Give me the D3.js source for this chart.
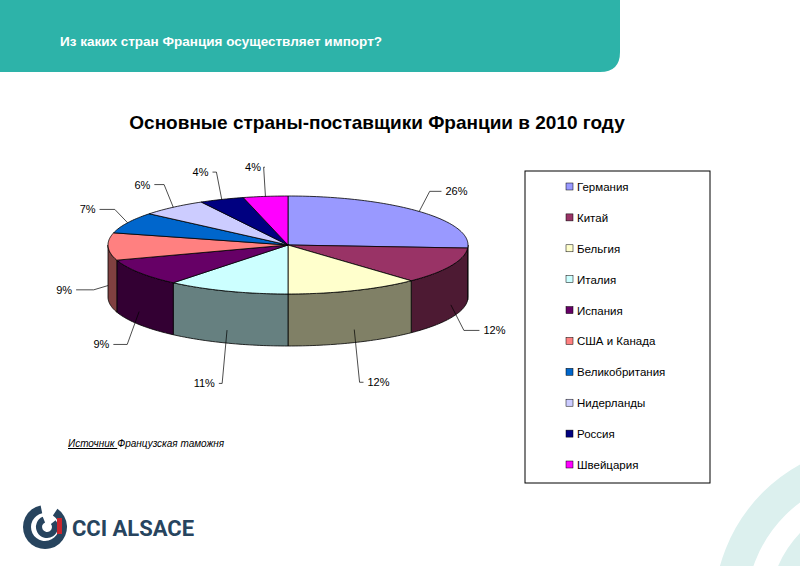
<!DOCTYPE html><html><head><meta charset="utf-8"><script src="https://cdn.jsdelivr.net/npm/d3@7"></script>
<style>body{margin:0;background:#fff}svg{display:block;font-family:"Liberation Sans",Arial,sans-serif}</style></head><body>
<svg id="c" width="800" height="566"></svg>
<script>
const countries=["Германия","Китай","Бельгия","Италия","Испания","США и Канада","Великобритания","Нидерланды","Россия","Швейцария"];
const shares=[26,12,12,11,9,9,7,6,4,4];
const colors=["#9999ff","#993366","#ffffcc","#ccffff","#660066","#ff8080","#0066cc","#ccccff","#000080","#ff00ff"];
const svg=d3.select("#c");
svg.append("path").attr("d","M0,0H620V52Q620,72 600,72H0Z").attr("fill","#2db3a9");
svg.append("text").attr("x",60).attr("y",46).attr("fill","#fff").attr("font-size",13.5).attr("font-weight","bold").text("Из каких стран Франция осуществляет импорт?");
const deco=svg.append("g").attr("fill","none").attr("stroke","#dcf0ee");
deco.append("circle").attr("cx",880).attr("cy",610).attr("r",150).attr("stroke-width",32);
deco.append("circle").attr("cx",880).attr("cy",610).attr("r",95).attr("stroke-width",32);
svg.append("text").attr("x",377).attr("y",129).attr("text-anchor","middle").attr("font-size",19).attr("font-weight","bold").text("Основные страны-поставщики Франции в 2010 году");
const cx=288,cy=245,rx=180,ry=49,depth=52;
const pie=d3.pie().sort(null).value(d=>d)(shares);
const P=(a,dy=0)=>[cx+rx*Math.sin(a),cy-ry*Math.cos(a)+dy];
const dark=c=>{const k=d3.rgb(c);return d3.rgb(k.r*.5,k.g*.5,k.b*.5).toString();};
const g=svg.append("g").attr("stroke","#000").attr("stroke-width",0.8);
function arcPts(a0,a1,dy){const n=Math.max(2,Math.ceil((a1-a0)/0.02));return d3.range(n+1).map(i=>P(a0+(a1-a0)*i/n,dy));}
pie.forEach((s,i)=>{const a0=Math.max(s.startAngle,Math.PI/2),a1=Math.min(s.endAngle,3*Math.PI/2);if(a1<=a0)return;
 const top=arcPts(a0,a1,0),bot=arcPts(a0,a1,depth).reverse();
 g.append("path").attr("d",d3.line()(top.concat(bot))+"Z").attr("fill",dark(colors[i]));});
pie.forEach((s,i)=>{const pts=[[cx,cy]].concat(arcPts(s.startAngle,s.endAngle,0));
 g.append("path").attr("d",d3.line()(pts)+"Z").attr("fill",colors[i]);});
const lg=svg.append("g").attr("font-size",11);
pie.forEach((s,i)=>{const m=(s.startAngle+s.endAngle)/2,front=Math.cos(m)<0;
 const dy=front?depth*0.75:0;const a=P(m,dy);
 const lx=cx+rx*1.2*Math.sin(m),ly=cy-ry*(front?2.1:1.6)*Math.cos(m)+(front?depth*0.8:0);
 const side=Math.sin(m)>=0?1:-1;
 lg.append("polyline").attr("points",[a,[a[0]+(lx-a[0])*0.4,ly],[lx-side*4,ly]].map(p=>p.join(",")).join(" ")).attr("fill","none").attr("stroke","#000").attr("stroke-width",0.7);
 lg.append("text").attr("x",lx).attr("y",ly+4).attr("text-anchor",side>0?"start":"end").text(shares[i]+"%");});
svg.append("rect").attr("x",525).attr("y",171).attr("width",185).attr("height",312).attr("fill","#fff").attr("stroke","#000");
const y=d3.scalePoint().domain(countries).range([187,465]);
countries.forEach((c,i)=>{svg.append("rect").attr("x",566).attr("y",y(c)-4).attr("width",7).attr("height",7).attr("fill",colors[i]).attr("stroke","#000").attr("stroke-width",0.5);
 svg.append("text").attr("x",577).attr("y",y(c)+4).attr("font-size",11.5).text(c);});
const st=svg.append("text").attr("x",68).attr("y",447).attr("font-size",10).attr("font-style","italic");
st.append("tspan").attr("text-decoration","underline").text("Источник ");st.append("tspan").text(" Французская таможня");
const lo=svg.append("g");
lo.append("path").attr("d",d3.arc()({innerRadius:14,outerRadius:22,startAngle:0.6,endAngle:2*Math.PI-0.2})).attr("transform","translate(45,527)").attr("fill","#27445e");
lo.append("path").attr("d",d3.arc()({innerRadius:5,outerRadius:11,startAngle:0.9,endAngle:2*Math.PI-0.4})).attr("transform","translate(47,527)").attr("fill","#27445e");
lo.append("rect").attr("x",57).attr("y",518).attr("width",5).attr("height",16).attr("fill","#c9252c");
lo.append("text").attr("x",72).attr("y",536).attr("font-size",22).attr("font-weight","bold").attr("fill","#27445e").attr("font-family","Roboto,sans-serif").attr("textLength",122).text("CCI ALSACE");
</script></body></html>
